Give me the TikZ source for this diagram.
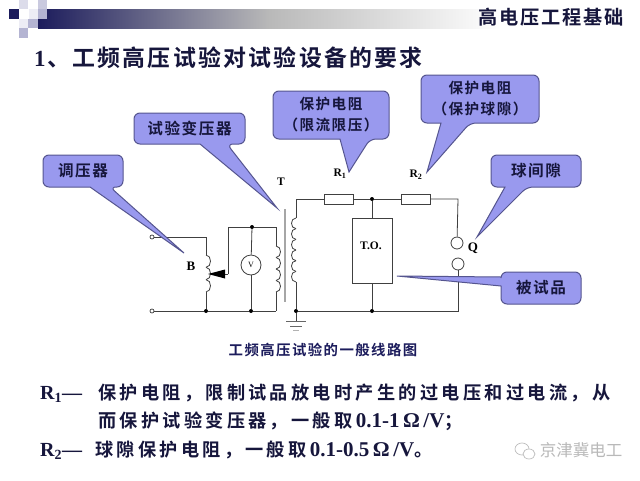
\documentclass[tikz,border=0pt]{standalone}
\usepackage{fontspec}
\setmainfont{Liberation Serif}
\newfontfamily\cjk{Noto Sans CJK SC}[BoldFont={* Bold}]
\newfontfamily\cjkA{Noto Sans CJK SC Bold}[LetterSpace=18]
\newfontfamily\cjkB{Noto Sans CJK SC Bold}[LetterSpace=10]
\usetikzlibrary{arrows.meta}
\definecolor{navy}{HTML}{1C1C5C}
\definecolor{inkc}{HTML}{16163C}
\definecolor{callfill}{HTML}{9999EE}
\definecolor{callline}{HTML}{55558F}
\definecolor{wirec}{HTML}{404040}
\definecolor{sqa}{HTML}{DCDCEA}
\definecolor{sqb}{HTML}{B4B4D2}
\definecolor{sqc}{HTML}{EDEDF5}
\tikzset{
  x=1pt,y=-1pt,
  callout/.style={draw=callline,line width=1pt,fill=callfill},
  calltext/.style={font=\cjkB\fontsize{14.6}{21}\selectfont,text=inkc,align=center,inner sep=0pt},
  callwide/.style={calltext,font=\cjkB\fontsize{15.6}{21}\selectfont},
  wire/.style={draw=wirec,line width=0.8pt},
  junction/.style={circle,fill=black,inner sep=0pt,minimum size=4pt},
  terminal/.style={circle,draw=wirec,fill=white,line width=0.7pt,inner sep=0pt,minimum size=4pt},
  resistor/.style={rectangle,draw=wirec,fill=white,line width=0.8pt,minimum width=29pt,minimum height=10pt,inner sep=0pt},
  ball/.style={circle,draw=wirec,fill=white,line width=0.8pt,minimum size=12pt,inner sep=0pt},
  symbol/.style={font=\bfseries\fontsize{11.5}{12}\selectfont,text=black,inner sep=0pt},
  bodytext/.style={anchor=base west,inner sep=0pt,text=inkc,font=\cjkA\fontsize{18.2}{20}\selectfont},
  bodylatin/.style={anchor=base west,inner sep=0pt,text=inkc,font=\bfseries\fontsize{20}{22}\selectfont},
}
% #1 x, #2 y top, #3 number of humps, #4 hump height, #5 bulge
\newcommand{\coilpath}[5]{%
  \foreach \k in {1,...,#3}{%
    \draw[wire] (#1,{#2+(\k-1)*#4}) .. controls ({#1+#5},{#2+(\k-1)*#4}) and ({#1+#5},{#2+\k*#4}) .. (#1,{#2+\k*#4});
  }}
% rounded box with a tail: x1 y1 x2 y2, tail base a, base b, tip x tip y (tail on bottom)
\newcommand{\callbottom}[8]{%
  \draw[callout,rounded corners=6pt] (#1,#2) -- (#3,#2) -- (#3,#4) -- (#6,#4)
    [sharp corners] -- (#7,#8) -- (#5,#4) [rounded corners=6pt] -- (#1,#4) -- cycle;}
\begin{document}
\begin{tikzpicture}
\useasboundingbox (0,0) rectangle (640,480);
\fill[white] (0,0) rectangle (640,480);
% header
\shade[left color=navy,right color=white,middle color=gray!55] (38,9) rectangle (500,28);
\fill[navy] (9,9) rectangle (19,19);
\fill[sqa] (19,0) rectangle (28,9);
\fill[sqb!70] (38,0) rectangle (47,9);
\fill[sqc] (29,9) rectangle (38,19);
\fill[sqb] (38,9) rectangle (47,19);
\fill[sqc] (19,19) rectangle (28,28);
\fill[sqb] (28,19) rectangle (38,28);
\fill[sqb] (19,28) rectangle (28,38);
\node[inner sep=0pt,text=inkc,font=\cjkB\fontsize{19.2}{22}\selectfont] (head) at (551,17) {高电压工程基础};
% title
\node[anchor=base west,inner sep=0pt,text=inkc,font=\bfseries\fontsize{23}{26}\selectfont] (titlenum) at (34,66) {1};
\node[anchor=base west,inner sep=0pt,text=inkc,font=\cjkB\fontsize{22.9}{26}\selectfont] (title) at (47,66) {、工频高压试验对试验设备的要求};
% circuit
\node[terminal] (ta) at (152,237) {};
\node[terminal] (tb) at (152,311) {};
\coordinate (p1) at (206,237);
\coordinate (p2) at (206,255);
\coordinate (p3) at (206,292);
\node[junction] (j1) at (206,311) {};
\node[junction] (j2) at (251,311) {};
\node[junction] (j3) at (252,227) {};
\node[junction] (j4) at (296,311) {};
\node[junction] (j5) at (372,199) {};
\node[junction] (j6) at (372,311) {};
\coordinate (c1) at (228,227);
\coordinate (c2) at (228,274);
\coordinate (c3) at (276,227);
\coordinate (c4) at (276,246);
\coordinate (c5) at (276,292);
\coordinate (c6) at (276,311);
\coordinate (h1) at (296,199);
\coordinate (h2) at (296,218);
\coordinate (h3) at (296,282);
\coordinate (s1) at (458,199);
\coordinate (s2) at (458,311);
\draw[wire] (ta) -- (p1) -- (p2);
\coilpath{206}{255}{3}{12.33}{6}
\draw[wire] (p3) -- (j1);
\draw[wire] (tb) -- (j1) -- (j2) -- (c6);
\draw[wire] (c2) -- (c1) -- (j3) -- (c3) -- (c4);
\coilpath{276}{246}{4}{11.5}{6}
\draw[wire] (c5) -- (c6);
\node[circle,draw=wirec,fill=white,line width=0.8pt,minimum size=20pt,inner sep=0pt,font=\fontsize{8}{9}\selectfont] (vm) at (251,265) {V};
\draw[wire] (j3) -- (vm);
\draw[wire] (vm) -- (j2);
\coordinate (tip) at (208,274);
\coordinate (arrstart) at (225,274);
\draw[wire] (c2) -- (arrstart);
\fill[black] (arrstart) -- ++(0,-4.5) -- (tip) -- (225,278.5) -- cycle;
\coordinate (core1) at (285,209);
\coordinate (core2) at (285,302);
\draw[draw=gray!70,line width=1.6pt] (core1) -- (core2);
\draw[wire] (h2) -- (h1);
\coilpath{296}{218}{6}{10.67}{-6}
\draw[wire] (h3) -- (j4);
\node[resistor] (r1) at (339,199) {};
\node[resistor] (r2) at (416,199) {};
\node[ball] (q1) at (457,243) {};
\node[ball] (q2) at (458,264) {};
\node[rectangle,draw=wirec,fill=white,line width=0.8pt,minimum width=40pt,minimum height=65pt,inner sep=0pt] (to) at (372,250.5) {};
\node[symbol] (tolabel) at (371,246) {T.O.};
\draw[wire] (h1) -- (r1);
\draw[wire] (r1) -- (j5);
\draw[wire] (j5) -- (r2);
\draw[wire] (r2) -- (s1) -- (q1);
\draw[wire] (q2) -- (s2) -- (j6);
\draw[wire] (j6) -- (j4);
\draw[wire] (j5) -- (to);
\draw[wire] (to) -- (j6);
% ground
\coordinate (g0) at (296,321);
\draw[wire] (j4) -- (g0);
\draw[draw=gray!80!black,line width=0.8pt] (286,321) -- (306,321);
\draw[draw=gray!80!black,line width=0.8pt] (290,326) -- (302,326);
\draw[draw=gray!60,line width=0.8pt] (293,330) -- (299,330);
% circuit labels
\node[symbol] (lt) at (281,182) {T};
\node[symbol] (lr1) at (340,174) {R\textsubscript{1}};
\node[symbol] (lr2) at (416,175) {R\textsubscript{2}};
\node[symbol,font=\bfseries\fontsize{13}{14}\selectfont] (lb) at (191,266) {B};
\node[symbol,font=\bfseries\fontsize{13}{14}\selectfont] (lq) at (473,248) {Q};
% callouts
\callbottom{43}{155}{123}{187}{90}{110}{184}{253}
\node[callwide] (n1) at (83,171) {调压器};
\callbottom{134}{113}{245}{144}{200}{227}{277}{208}
\node[callwide] (n2) at (189.5,128.5) {试验变压器};
\callbottom{273}{91}{389}{139}{340}{370}{349}{172}
\node[calltext] (n3) at (331,115) {保护电阻\\（限流限压）};
\callbottom{421}{75}{539}{123}{441}{470}{427}{172}
\node[calltext] (n4) at (480,99) {保护电阻\\（保护球隙）};
\callbottom{491}{155}{581}{187}{505}{527}{477}{237}
\node[callwide] (n5) at (536,171) {球间隙};
\draw[callout,rounded corners=6pt] (501,272) -- (581,272) -- (581,304) -- (501,304)
  [sharp corners] -- (501,286) -- (397,276) -- (501,277) [rounded corners=6pt] -- cycle;
\node[callwide] (n6) at (541,288) {被试品};
% caption
\node[inner sep=0pt,text=navy,font=\cjkB\fontsize{14.4}{16}\selectfont] (cap) at (323,350) {工频高压试验的一般线路图};
% body text
\node[bodylatin] (b1) at (40,399) {R\textsubscript{1}—};
\node[bodytext] (b2) at (98,399) {保护电阻，限制试品放电时产生的过电压和过电流，从};
\node[bodytext] (b3) at (98,427) {而保护试验变压器，一般取\textbf{\rmfamily\fontsize{21}{22}\selectfont 0.1-1\,Ω\,/V}；};
\node[bodylatin] (b4) at (40,456) {R\textsubscript{2}—};
\node[bodytext] (b5) at (95,456) {球隙保护电阻，一般取\textbf{\rmfamily\fontsize{21}{22}\selectfont 0.1-0.5\,Ω\,/V}。};
% watermark
\draw[gray!50,line width=0.7pt,fill=white] (522,449) ellipse (7pt and 6pt);
\draw[gray!50,line width=0.7pt,fill=white] (529,454) ellipse (6pt and 5pt);
\node[inner sep=0pt,text=gray!55,font=\cjk\fontsize{16.5}{18}\selectfont] (wm) at (581,450) {京津冀电工};
\end{tikzpicture}
\end{document}
